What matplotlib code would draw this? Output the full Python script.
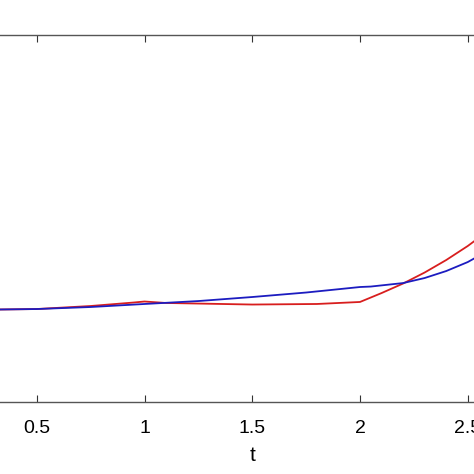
import matplotlib
matplotlib.use("Agg")
import matplotlib.pyplot as plt

# values (y scale is arbitrary, ticks are cropped away)
t_blue = [0, 0.33, 0.5, 0.75, 1.0, 1.25, 1.5, 1.75, 2.0, 2.05, 2.2, 2.3, 2.4, 2.5, 2.6, 2.7]
y_blue = [1.0, 1.005, 1.010, 1.032, 1.065, 1.097, 1.141, 1.190, 1.250, 1.255,
          1.293, 1.348, 1.424, 1.522, 1.653, 1.806]

t_red = [0, 0.33, 0.5, 0.75, 0.95, 1.0, 1.1, 1.5, 1.8, 2.0, 2.1, 2.2, 2.3, 2.4, 2.5, 2.6, 2.7]
y_red = [1.0, 1.005, 1.010, 1.043, 1.081, 1.092, 1.076, 1.059, 1.065, 1.087,
         1.184, 1.288, 1.408, 1.544, 1.697, 1.871, 2.060]

xticks = [0.5, 1, 1.5, 2, 2.5]
xtick_labels = ["0.5", "1", "1.5", "2", "2.5"]

plt.rcParams['font.family'] = ['Liberation Sans', 'DejaVu Sans']

fig = plt.figure(figsize=(4.74, 4.74), dpi=100)
# axes is wider than the figure: the picture is a crop of a larger plot
ax = fig.add_axes([-71 / 474, (474 - 401.7) / 474, 646.5 / 474, 367 / 474])

ax.plot(t_red, y_red, color='#d81e1e', lw=1.3)
ax.plot(t_blue, y_blue, color='#1c1cc0', lw=1.3)

ax.set_xlim(0, 3)
ax.set_ylim(0, 4)
ax.set_xticks(xticks)
ax.set_xticklabels(xtick_labels)
ax.set_yticks([])
ax.tick_params(axis='x', direction='in', top=True, length=5, width=0.8,
               color='#333333', labelsize=14, pad=13)
for s in ax.spines.values():
    s.set_color('#555555')
    s.set_linewidth(1.0)
ax.set_xlabel("t", fontsize=15, labelpad=7)

fig.savefig("out.png", dpi=100)
